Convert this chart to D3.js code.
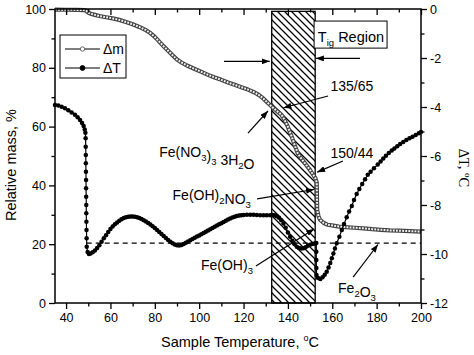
<!DOCTYPE html>
<html><head><meta charset="utf-8">
<script src="https://cdn.jsdelivr.net/npm/d3@7"></script>
<style>
html,body{margin:0;padding:0;background:#fff;}
svg{display:block;font-family:"Liberation Sans",Arial,sans-serif;}
</style></head>
<body><svg id="c" width="474" height="355"></svg>
<script>
// ---- data ----
const xTicks = [40,60,80,100,120,140,160,180,200];
const yLeftTicks = [0,20,40,60,80,100];
const yRightTicks = [0,-2,-4,-6,-8,-10,-12];
// Relative mass (%) vs sample temperature (°C)
const massT = [35,40,45,48,49,50,51,53,55,58,61,64,67,70,73,76,78,80,82,84,86,88,90,92,95,98,101,104,107,110,113,116,119,122,125,127,129,131,133,135,137,138.5,140,141.5,143,144.5,146,148,150,151.5,152.3,153,153.1,153.2,153.8,154.5,156,158,160.5,163,166,170,174,178,182,186,190,195,200];
const massV = [99.8,99.75,99.7,99.65,99.4,98.8,98.4,98.0,97.6,97.2,96.8,96.3,95.6,94.8,93.9,92.8,91.8,90.5,88.9,87.3,85.8,84.3,82.8,81.8,80.6,79.6,78.6,77.6,76.7,75.9,75.0,74.2,73.4,72.6,71.6,70.7,69.5,68.0,66.6,65.3,64.1,62.3,59.9,57.0,53.8,50.8,49.2,47.2,45.2,43.5,42.6,41.0,36.0,31.6,29.5,28.3,27.3,26.6,26.3,26.0,25.8,25.6,25.4,25.1,24.9,24.7,24.6,24.45,24.3];
// ΔT (°C) vs sample temperature (°C)
const dtT = [35,36.5,38,39.5,41,42.5,44,45.2,46.3,47.2,47.9,48.4,48.7,48.8,48.85,48.9,48.9,48.95,49.0,49.0,49.05,49.1,49.1,49.15,49.2,49.25,49.3,49.7,50.3,51,52,53,54,55,56,57,58,59,60,61,62,63,64,65,66,67,68,69,70,71,72,73,74,75,76,77,78,79,80,81,82,83,84,85,86,87,88,89,90,91,92,93,94,95,96,97,98,99,100,101,102,103,104,105,106,107,108,109,110,111,112,113,114,115,116,117,118,119,120,121.5,123,124.5,126,127.5,129,130.5,132,133,134,135,136,137,138,139,140,141,142,143,144,145,146,147,148,149,150,151,152,152.8,152.8,152.8,152.85,152.9,153.6,154.6,155.6,156.6,157.5,158.3,159.1,159.8,160.5,161.2,162.0,163.2,164.3,165.3,166.5,167.6,168.8,169.8,171.0,172.2,173.5,174.8,176.0,177.3,178.8,180.5,181.8,183,184.2,185.5,186.8,188,189.3,190.6,192,193.4,194.8,196.2,197.6,199,200];
const dtV = [-3.92,-3.94,-3.99,-4.05,-4.13,-4.22,-4.32,-4.42,-4.53,-4.65,-4.78,-4.92,-5.05,-5.28,-5.62,-5.96,-6.30,-6.64,-6.98,-7.32,-7.66,-8.00,-8.34,-8.68,-9.02,-9.36,-9.70,-9.92,-10.0,-9.98,-9.93,-9.86,-9.76,-9.64,-9.50,-9.36,-9.23,-9.10,-8.98,-8.88,-8.79,-8.71,-8.64,-8.58,-8.53,-8.50,-8.48,-8.47,-8.47,-8.48,-8.50,-8.53,-8.57,-8.62,-8.67,-8.73,-8.80,-8.87,-8.94,-9.02,-9.10,-9.18,-9.27,-9.35,-9.43,-9.50,-9.56,-9.61,-9.64,-9.65,-9.63,-9.59,-9.54,-9.49,-9.44,-9.39,-9.34,-9.29,-9.24,-9.19,-9.14,-9.09,-9.04,-8.99,-8.94,-8.89,-8.84,-8.79,-8.74,-8.69,-8.64,-8.59,-8.55,-8.51,-8.48,-8.45,-8.43,-8.42,-8.41,-8.40,-8.40,-8.40,-8.41,-8.42,-8.42,-8.42,-8.42,-8.41,-8.42,-8.46,-8.52,-8.62,-8.76,-8.93,-9.12,-9.30,-9.46,-9.60,-9.70,-9.76,-9.78,-9.77,-9.72,-9.66,-9.62,-9.59,-9.57,-9.55,-9.91,-10.24,-10.57,-10.86,-10.98,-11.02,-10.95,-10.85,-10.72,-10.55,-10.37,-10.17,-9.98,-9.78,-9.56,-9.30,-9.02,-8.78,-8.50,-8.27,-8.04,-7.80,-7.55,-7.35,-7.14,-6.95,-6.77,-6.64,-6.50,-6.35,-6.22,-6.10,-5.99,-5.88,-5.78,-5.69,-5.60,-5.51,-5.43,-5.35,-5.28,-5.21,-5.14,-5.07,-5.02];
const baselineDT = -9.56;        // dashed reference line (ΔT axis)
const baselineFrom = 49.3;
const tigRegion = [132.7, 152.3]; // hatched ignition region (°C)

// ---- layout ----
const svg = d3.select("#c");
const L = 55, R = 421, T = 9, B = 303;
const x = d3.scaleLinear([35,200],[L,R]);
const yL = d3.scaleLinear([0,100],[B,T]);
const yR = d3.scaleLinear([-12,0],[B,T]);

const defs = svg.append("defs");
const pat = defs.append("pattern").attr("id","hatch").attr("patternUnits","userSpaceOnUse")
  .attr("width",7).attr("height",7);
pat.append("path").attr("d","M-1,-1 L8,8 M-1,6 L1,8 M6,-1 L8,1")
  .attr("stroke","#000").attr("stroke-width",1.25);
defs.append("marker").attr("id","arr").attr("viewBox","0 0 8 6")
  .attr("refX",8).attr("refY",3).attr("markerWidth",8).attr("markerHeight",6)
  .attr("markerUnits","userSpaceOnUse").attr("orient","auto")
  .append("path").attr("d","M0,0 L8,3 L0,6 Z").attr("fill","#000");

// hatched region
svg.append("rect")
  .attr("x",x(tigRegion[0])).attr("width",x(tigRegion[1])-x(tigRegion[0]))
  .attr("y",yL(99.2)).attr("height",yL(0)-yL(99.2))
  .attr("fill","url(#hatch)").attr("stroke","#000").attr("stroke-width",1.3);

// dashed baseline
svg.append("line").attr("x1",x(baselineFrom)).attr("x2",x(200))
  .attr("y1",yR(baselineDT)).attr("y2",yR(baselineDT))
  .attr("stroke","#000").attr("stroke-width",1.2).attr("stroke-dasharray","5,4");

// mass curve (open circles, dense)
const mass = massT.map((t,i)=>[t,massV[i]]);
const lm = d3.line().x(d=>x(d[0])).y(d=>yL(d[1]));
svg.append("path").attr("d",lm(mass)).attr("fill","none")
  .attr("stroke","#444").attr("stroke-width",4.2).attr("stroke-linejoin","round");
svg.append("path").attr("d",lm(mass)).attr("fill","none")
  .attr("stroke","#f4f4f4").attr("stroke-width",2).attr("stroke-dasharray","1.8,1.3");

// ΔT curve (filled circles)
const dt = dtT.map((t,i)=>[t,dtV[i]]);
const ld = d3.line().x(d=>x(d[0])).y(d=>yR(d[1]));
svg.append("path").attr("d",ld(dt)).attr("fill","none").attr("stroke","#000").attr("stroke-width",1.2);
svg.append("g").selectAll("circle").data(dt).join("circle")
  .attr("cx",d=>x(d[0])).attr("cy",d=>yR(d[1])).attr("r",2.25).attr("fill","#000");

// axes
const fmt = d=>String(d);
const axisStyle = g=>{g.select(".domain").remove(); g.selectAll("line").attr("stroke","#000").attr("stroke-width",1.3);
  g.selectAll("text").attr("font-size",12.5).attr("font-family","Liberation Sans, Arial, sans-serif").attr("fill","#000");};
const minorX = d3.range(50,200,20), minorYL = d3.range(10,100,20), minorYR = d3.range(-11,0,2);
svg.append("g").attr("transform",`translate(0,${B})`).call(d3.axisBottom(x).tickValues(xTicks).tickFormat(fmt).tickSize(6).tickPadding(4)).call(axisStyle);
svg.append("g").attr("transform",`translate(0,${B})`).call(d3.axisBottom(x).tickValues(minorX).tickFormat("").tickSize(3.5)).call(axisStyle);
svg.append("g").attr("transform",`translate(0,${T})`).call(d3.axisBottom(x).tickValues(xTicks).tickFormat("").tickSize(6)).call(axisStyle);
svg.append("g").attr("transform",`translate(0,${T})`).call(d3.axisBottom(x).tickValues(minorX).tickFormat("").tickSize(3.5)).call(axisStyle);
svg.append("g").attr("transform",`translate(${L},0)`).call(d3.axisLeft(yL).tickValues(yLeftTicks).tickFormat(fmt).tickSize(6).tickPadding(3)).call(axisStyle);
svg.append("g").attr("transform",`translate(${L},0)`).call(d3.axisLeft(yL).tickValues(minorYL).tickFormat("").tickSize(3.5)).call(axisStyle);
svg.append("g").attr("transform",`translate(${R},0)`).call(d3.axisRight(yR).tickValues(yRightTicks).tickFormat(fmt).tickSize(6).tickPadding(3)).call(axisStyle);
svg.append("g").attr("transform",`translate(${R},0)`).call(d3.axisRight(yR).tickValues(minorYR).tickFormat("").tickSize(3.5)).call(axisStyle);
svg.append("rect").attr("x",L).attr("y",T).attr("width",R-L).attr("height",B-T)
  .attr("fill","none").attr("stroke","#000").attr("stroke-width",1.5);

// axis titles
const xt = svg.append("text").attr("x",240).attr("y",347).attr("text-anchor","middle").attr("font-size",14.5);
xt.append("tspan").text("Sample Temperature, ");
xt.append("tspan").attr("font-size",9).attr("dy",-6).text("o");
xt.append("tspan").attr("dy",6).text("C");
svg.append("text").attr("transform","translate(16,165) rotate(-90)").attr("text-anchor","middle")
  .attr("font-size",14.5).text("Relative mass, %");
const yt = svg.append("text").attr("transform","translate(459,168) rotate(90)").attr("text-anchor","middle")
  .attr("font-size",14.5).attr("font-family","Liberation Serif, Times New Roman, serif");
yt.append("tspan").text("ΔT, ");
yt.append("tspan").attr("font-size",9).attr("dy",-6).text("o");
yt.append("tspan").attr("dy",6).text("C");

// legend
const lg = svg.append("g");
lg.append("rect").attr("x",60).attr("y",35).attr("width",66).attr("height",43).attr("fill","#fff").attr("stroke","#000").attr("stroke-width",1);
[["Δm",49,false],["ΔT",68,true]].forEach(([lab,yy,filled])=>{
  lg.append("line").attr("x1",65).attr("x2",100).attr("y1",yy).attr("y2",yy).attr("stroke","#000").attr("stroke-width",1.2);
  lg.append("circle").attr("cx",82.5).attr("cy",yy).attr("r",filled?2.4:2.2)
    .attr("fill",filled?"#000":"#fff").attr("stroke",filled?"#000":"#666").attr("stroke-width",1);
  lg.append("text").attr("x",103).attr("y",yy+5).attr("font-size",14).text(lab);
});

// Tig region box
svg.append("rect").attr("x",x(151.8)).attr("y",yL(95.9)).attr("width",x(184.7)-x(151.8)).attr("height",yL(86.7)-yL(95.9))
  .attr("fill","#fff").attr("stroke","#000").attr("stroke-width",1);
const tg = svg.append("text").attr("x",x(153.5)).attr("y",yL(88.9)).attr("font-size",14.5);
tg.append("tspan").text("T");
tg.append("tspan").attr("font-size",9.5).attr("dy",4).text("ig");
tg.append("tspan").attr("dy",-4).text(" Region");

// annotation arrows (data coords)
const arrows = [
  [[111.2,82.2],[131.8,82.2]],
  [[172.5,83.2],[152.6,83.2]],
  [[158.1,70.4],[138.0,66.4]],
  [[122.0,57.8],[131.0,65.3]],
  [[164.8,48.3],[153.2,44.5]],
  [[126.1,35.4],[151.8,38.6]],
  [[125.6,12.6],[151.8,25.2]],
  [[169.4,8.8],[180.6,19.9]]
];
arrows.forEach(([a,b])=>{
  svg.append("line").attr("x1",x(a[0])).attr("y1",yL(a[1])).attr("x2",x(b[0])).attr("y2",yL(b[1]))
    .attr("stroke","#000").attr("stroke-width",1.2).attr("marker-end","url(#arr)");
});

// annotation texts with subscripts
function rich(tx,ty,parts){
  const t = svg.append("text").attr("x",x(tx)).attr("y",yL(ty)).attr("font-size",14);
  parts.forEach(p=>{
    if(typeof p==="string") t.append("tspan").text(p);
    else { t.append("tspan").attr("font-size",9.5).attr("dy",4).text(p.s);
           t.append("tspan").attr("dy",-4).text(""); }
  });
}
rich(159.2,72.0,["135/65"]);
rich(159.2,49.3,["150/44"]);
rich(82.0,49.6,["Fe(NO",{s:"3"},")",{s:"3"}," 3H",{s:"2"},"O"]);
rich(88.0,35.0,["Fe(OH)",{s:"2"},"NO",{s:"3"}]);
rich(100.8,11.2,["Fe(OH)",{s:"3"}]);
rich(162.6,3.4,["Fe",{s:"2"},"O",{s:"3"}]);
</script></body></html>
